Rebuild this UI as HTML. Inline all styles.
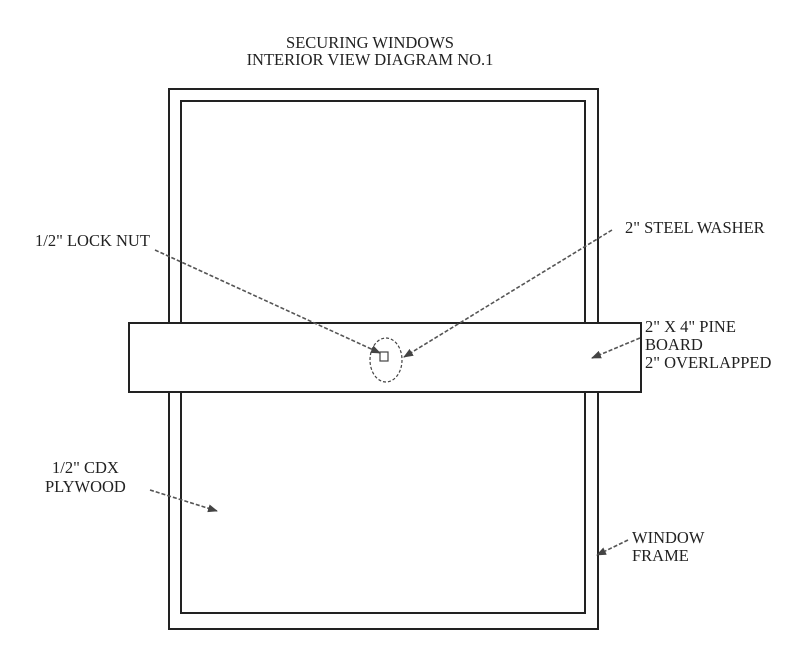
<!DOCTYPE html>
<html><head><style>
body{margin:0;background:#fff;}
svg{display:block;}
text{font-family:"Liberation Serif",serif;font-size:16.5px;fill:#222;}
</style></head><body>
<svg width="798" height="645" viewBox="0 0 798 645">
<defs><marker id="a" markerWidth="10" markerHeight="8" refX="9" refY="4" orient="auto" markerUnits="userSpaceOnUse"><path d="M0,0 L10,4 L0,8 z" fill="#444"/></marker></defs>
<text x="370" y="48" text-anchor="middle">SECURING WINDOWS</text>
<text x="370" y="65" text-anchor="middle">INTERIOR VIEW DIAGRAM NO.1</text>
<rect x="169" y="89" width="429" height="540" fill="none" stroke="#222" stroke-width="2"/>
<rect x="181" y="101" width="404" height="512" fill="none" stroke="#222" stroke-width="2"/>
<rect x="129" y="323" width="512" height="69" fill="#fff" stroke="#222" stroke-width="2"/>
<ellipse cx="386" cy="360" rx="16" ry="22" fill="none" stroke="#444" stroke-width="1.2" stroke-dasharray="3,2"/>
<rect x="380" y="352" width="8" height="9" fill="none" stroke="#444" stroke-width="1.2"/>
<g stroke="#555" stroke-width="1.6" stroke-dasharray="4,2" fill="none" marker-end="url(#a)">
<line x1="155" y1="250" x2="380" y2="353"/>
<line x1="612" y1="230" x2="404" y2="357"/>
<line x1="640" y1="338" x2="592" y2="358"/>
<line x1="150" y1="490" x2="217" y2="511"/>
<line x1="628" y1="540" x2="597" y2="555"/>
</g>
<text x="35" y="246">1/2" LOCK NUT</text>
<text x="625" y="233">2" STEEL WASHER</text>
<text x="645" y="332">2" X 4" PINE</text>
<text x="645" y="350">BOARD</text>
<text x="645" y="368">2" OVERLAPPED</text>
<text x="52" y="473">1/2" CDX</text>
<text x="45" y="492">PLYWOOD</text>
<text x="632" y="543">WINDOW</text>
<text x="632" y="561">FRAME</text>
</svg>
</body></html>
